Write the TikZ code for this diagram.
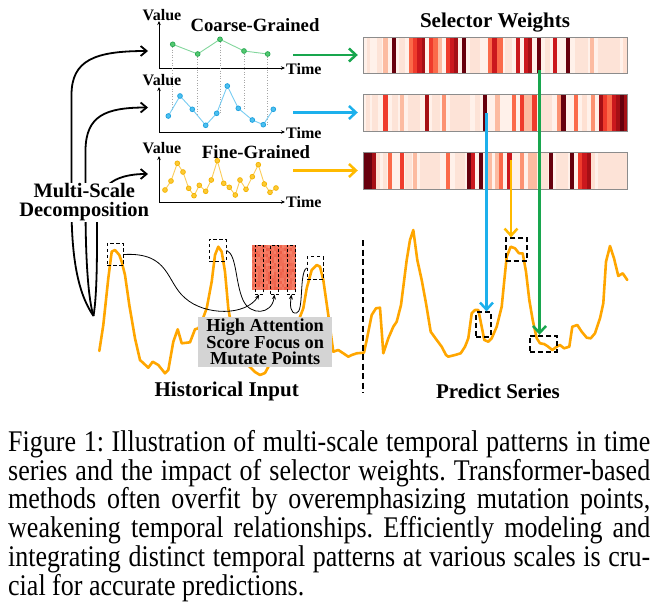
\documentclass[tikz,border=0pt]{standalone}
\usepackage{fontspec}
\setmainfont{Liberation Serif}
\newfontfamily\capfont{Liberation Serif}[FakeStretch=0.867]
\usetikzlibrary{arrows.meta}
\definecolor{sorange}{RGB}{255,166,0}
\definecolor{mgreen}{RGB}{24,166,78}
\definecolor{mblue}{RGB}{28,176,236}
\definecolor{myellow}{RGB}{255,186,0}
\definecolor{gpt}{RGB}{84,200,112}
\definecolor{gptd}{RGB}{40,168,82}
\definecolor{gln}{RGB}{130,214,156}
\definecolor{bpt}{RGB}{76,192,240}
\definecolor{bptd}{RGB}{30,160,222}
\definecolor{bln}{RGB}{120,204,242}
\definecolor{ypt}{RGB}{252,202,52}
\definecolor{yptd}{RGB}{244,178,0}
\definecolor{yln}{RGB}{250,204,90}
\definecolor{r0}{HTML}{FFF1EA}
\definecolor{rl}{HTML}{FDE3D7}
\definecolor{r1}{HTML}{FEE0D2}
\definecolor{r2}{HTML}{FCBBA1}
\definecolor{r3}{HTML}{FC9272}
\definecolor{r4}{HTML}{FB6A4A}
\definecolor{r5}{HTML}{EF3B2C}
\definecolor{r6}{HTML}{CB181D}
\definecolor{r7}{HTML}{A50F15}
\definecolor{r8}{HTML}{67000D}
\definecolor{blkA}{RGB}{236,84,62}
\definecolor{blkB}{RGB}{250,150,125}
\definecolor{boxgray}{RGB}{212,212,212}
\definecolor{barborder}{RGB}{140,140,140}
\begin{document}
\begin{tikzpicture}[x=1pt,y=-1pt,
  seriesln/.style={sorange,line width=2.6pt,line join=round,line cap=round},
  axisln/.style={black,line width=0.8pt,{Stealth[length=4pt,width=3.5pt]}-{Stealth[length=4pt,width=3.5pt]}},
  dotln/.style={gray!70,line width=0.6pt,dotted},
  ptg/.style={fill=gpt,draw=gptd,line width=0.7pt},
  ptb/.style={fill=bpt,draw=bptd,line width=0.7pt},
  pty/.style={fill=ypt,draw=yptd,line width=0.7pt},
  colarr/.style={line width=2.5pt,-{Straight Barb[length=7pt,width=13pt]}},
  blkarr/.style={black,line width=1.8pt,-{Straight Barb[length=6pt,width=10pt]}},
  thinarr/.style={black,line width=0.8pt,-{Stealth[length=5pt,width=4pt]}},
  hdash/.style={draw=black,line width=1pt,dash pattern=on 3.5pt off 2.5pt,inner sep=0pt},
  pdash/.style={draw=black,line width=1.8pt,dash pattern=on 5pt off 3pt,inner sep=0pt},
  cdash/.style={draw=black,line width=0.9pt,dash pattern=on 3pt off 2pt,inner sep=0pt,minimum height=49pt},
  barbox/.style={draw=barborder,line width=1pt,inner sep=0pt,minimum width=264.4pt},
  biglbl/.style={font=\fontsize{21}{18}\selectfont\bfseries,inner sep=0pt},
  midlbl/.style={font=\fontsize{18.7}{18}\selectfont\bfseries,inner sep=0pt},
  axlbl/.style={font=\fontsize{16}{16}\selectfont\bfseries,inner sep=0pt},
  caplbl/.style={font=\capfont\fontsize{30}{29}\selectfont\frenchspacing,inner sep=0pt,anchor=base west}
]
\useasboundingbox (0,0) rectangle (664,613);

% ---------------- orange series ----------------
\draw[seriesln] plot coordinates {(99.3,351) (103.3,325) (108.3,278.3) (111.7,251.7) (115,250) (119.3,255) (121.7,261.7) (125,275) (129.3,305) (135,338.3) (140,360) (148.3,367.7) (152.7,361.7) (158.3,365) (165,373.3) (168.3,370) (173.3,341.7) (177.7,329.3) (181.7,343.3) (190,342.3) (195,329.3) (198.3,328.3) (201.7,321.7) (206.7,308.3) (211.7,281.7) (215,255) (218.3,246.7) (221.7,251.7) (225,271.7) (228.3,308.3) (231.7,328.3) (236,345) (245,362) (255,372) (260,375) (265,373) (272,360) (280,345) (290,335) (298,322) (303.3,308.3) (306.7,288.3) (311.7,270) (316.7,265) (320,266.7) (323.3,280) (328.3,315) (333.3,351.7) (338.3,350) (343.3,353.3) (348.3,356.7) (351.7,355) (356.7,353.3) (364,352.7) (366.7,340) (371.7,315) (376,308.3) (380,307.7) (383.3,353.3) (388.3,338.3) (393.3,326.7) (396.7,321.7) (401,305) (406.7,260) (410,240) (413.3,230) (417.3,260) (421.7,280) (426,303.3) (430.7,331.7) (436.7,340) (441.7,346.7) (446,355) (448.3,356.7) (455,355) (460.7,353.3) (465,346.7) (468.3,338.3) (471.7,313.3) (475,310) (478.3,310) (481.7,326.7) (484.3,340) (488.3,341.7) (491.7,338.3) (496.7,326.7) (501.7,306.7) (504,283.3) (506.7,256.7) (510.7,246.7) (515,248.3) (519,253.3) (522.7,253.3) (526,271.7) (529.3,300) (532.7,320) (536.7,338.3) (540,343.3) (544,344) (547.3,346) (552.3,350) (556.7,346.7) (560,345) (564,348.3) (569.3,346.7) (572.3,326.7) (577.3,325) (581.7,331.7) (586.7,337.7) (590.7,338.3) (595,333.3) (600,318.3) (603.3,303.3) (606,261.7) (610,246) (614,258.3) (618.3,276) (622.7,273.3) (627.3,280)};

% gray annotation box
\node[fill=boxgray,minimum width=133.7pt,minimum height=50.6pt,inner sep=0pt,align=center,
  font=\fontsize{18.3}{16.7}\selectfont\bfseries] (hatt) at (265.2,342) {High Attention\\Score Focus on\\Mutate Points};

% dashed boxes on historical peaks
\node[hdash,minimum width=16pt,minimum height=22.4pt] (hb1) at (115.3,254.5) {};
\node[hdash,minimum width=16.7pt,minimum height=22pt] (hb2) at (217.7,250.3) {};
\node[hdash,minimum width=16.3pt,minimum height=22.5pt] (hb3) at (315.2,268) {};

% attention block
\pgfmathsetseed{11}
\foreach \i in {0,...,21}{
  \foreach \j in {0,...,14}{
    \pgfmathsetmacro\myshade{30+55*rnd}
    \fill[blkA!\myshade!blkB] (252.3+2*\i,245+3*\j) rectangle ++(2,3);
  }
}
\node[cdash,minimum width=8.3pt] (col1) at (259.2,269.5) {};
\node[cdash,minimum width=7.6pt] (col2) at (274.5,269.5) {};
\node[cdash,minimum width=8.4pt] (col3) at (291.5,269.5) {};

\draw[thinarr] (hb1.east) .. controls (170,252) and (166,282) .. (185,298) .. controls (205,316) and (246,316) .. (col1.south);
\draw[thinarr] (hb2.east) .. controls (237,255) and (235,282) .. (243,300) .. controls (250,316) and (272,315) .. (col2.south);
\draw[thinarr] (hb3.west) .. controls (299,273) and (304,312) .. (296.5,313) .. controls (290,314) and (290,305) .. (col3.south);

% divider
\coordinate (divtop) at (363.3,240);
\coordinate (divbot) at (363.3,393);
\draw[black,line width=1.8pt,dash pattern=on 6pt off 3.5pt] (divtop) -- (divbot);

\node[biglbl] (hist) at (226.7,391.5) {Historical Input};
\node[biglbl] (pred) at (498,391.5) {Predict Series};

% predicted-region boxes
\node[pdash,minimum width=21.6pt,minimum height=22.4pt] (pby) at (516.5,249.5) {};
\node[pdash,minimum width=14.7pt,minimum height=24.4pt] (pbb) at (483.3,324.5) {};
\node[pdash,minimum width=26.7pt,minimum height=16pt] (pbg) at (543.3,343.7) {};

% ---------------- multi-scale decomposition ----------------
\coordinate (mconv) at (93.5,316);
\coordinate (t1) at (148,51);
\coordinate (t2) at (148,107.5);
\coordinate (t3) at (148,174);
\draw[blkarr] (mconv) .. controls (77,292) and (71.5,255) .. (71.5,205) -- (71.5,95) .. controls (71.5,60) and (95,51) .. (t1);
\draw[blkarr] (mconv) .. controls (88.5,300) and (85.5,262) .. (85.5,205) -- (85.5,150) .. controls (86,116) and (105,107.5) .. (t2);
\draw[blkarr] (mconv) .. controls (97.5,292) and (97,245) .. (97,215) .. controls (97,188) and (112,174) .. (t3);
\node[fill=white,inner sep=1pt,align=center,font=\fontsize{20.5}{19}\selectfont\bfseries] (msd) at (84.2,202.5) {Multi-Scale\\Decomposition};

% ---------------- small charts ----------------
% chart 1 (coarse)
\draw[axisln] (159,21) -- (159,68) -- (285,68);
\node[axlbl] (v1) at (162,15) {Value};
\node[axlbl,anchor=west] (tm1) at (286,69) {Time};
\node[midlbl] (cg) at (255,25) {Coarse-Grained};
\foreach \x/\ya/\yb in {172.7/44.3/110, 197.7/54/115, 220/39.3/113, 244/51/110, 267.7/54/125}
  \draw[dotln] (\x,\ya) -- (\x,\yb);
\draw[gln,line width=0.9pt] plot coordinates {(172.7,44.3) (197.7,54) (220,39.3) (244,51) (267.7,54)};
\foreach \p in {(172.7,44.3),(197.7,54),(220,39.3),(244,51),(267.7,54)}
  \draw[ptg] \p circle (2.4);

% chart 2 (middle)
\draw[axisln] (159,87) -- (159,132) -- (285,132);
\node[axlbl] (v2) at (162,80) {Value};
\node[axlbl,anchor=west] (tm2) at (286,133) {Time};
\draw[bln,line width=0.9pt] plot coordinates {(168.3,116) (180,96) (192.3,109.3) (205.7,125.3) (216.7,113.3) (227.3,86) (238.3,108.3) (252.3,120) (263.3,124.7) (273.3,109.3)};
\foreach \p in {(168.3,116),(180,96),(192.3,109.3),(205.7,125.3),(216.7,113.3),(227.3,86),(238.3,108.3),(252.3,120),(263.3,124.7),(273.3,109.3)}
  \draw[ptb] \p circle (2.4);

% chart 3 (fine)
\draw[axisln] (159,156) -- (159,202) -- (285,202);
\node[axlbl] (v3) at (162,148) {Value};
\node[axlbl,anchor=west] (tm3) at (286,202.5) {Time};
\node[midlbl] (fg) at (256,152) {Fine-Grained};
\draw[yln,line width=0.9pt] plot coordinates {(165,190) (171,181) (177.3,163.3) (183,172) (188.7,188.3) (194,195.7) (199.3,185.3) (205.7,191.3) (211.3,180) (217.3,160.7) (223.7,183.3) (229.3,187.3) (235.3,195) (240,180) (246,189.3) (252.3,176.7) (258.3,164.7) (264.3,184) (270,192.3) (276,188)};
\foreach \p in {(165,190),(171,181),(177.3,163.3),(183,172),(188.7,188.3),(194,195.7),(199.3,185.3),(205.7,191.3),(211.3,180),(217.3,160.7),(223.7,183.3),(229.3,187.3),(235.3,195),(240,180),(246,189.3),(252.3,176.7),(258.3,164.7),(264.3,184),(270,192.3),(276,188)}
  \draw[pty] \p circle (2.4);

% ---------------- selector weights ----------------
\node[biglbl] (sw) at (495,23) {Selector Weights};

% bar 1
\fill[r0] (363.3,37) rectangle (627.7,73);
\foreach \a/\b/\c in {367/370/rl, 377/382/rl, 399/405/rl, 470/480/rl, 505/512/rl, 545/550/rl, 575/588/rl, 598/620/rl,
  383.3/388.3/r2, 391.7/395.7/r8, 409/413.3/r4, 413.3/417.3/r5, 417.3/421.7/r6, 421.7/425/r7,
  429.3/433.3/r5, 433.3/438.3/r4, 438.3/441.7/r2, 446/450/r5, 450/454.3/r6, 454.3/458.3/r7,
  461.7/466/r8, 487.7/491.7/r4, 491.7/497/r6, 497/503.3/r4, 515.7/520/r6, 524.3/528/r6, 528/532.3/r7,
  536.7/540.7/r8, 553.3/557.3/r6, 565.7/569.7/r8, 590/594.3/r2, 623/626.7/r1}
  \fill[\c] (\a,37) rectangle (\b,73);
\node[barbox,minimum height=36pt] (bar1) at (495.5,55) {};

% bar 2
\fill[r0] (363.3,94) rectangle (627.7,131);
\foreach \a/\b/\c in {366/370/rl, 372/378/rl, 392/398/rl, 408/420/rl, 432/440/rl, 450/470/rl, 475/480/rl, 540/552/rl,
  383.3/387.7/r5, 400/404.3/r2, 425/429.3/r7, 441.7/445.7/r3, 483.3/487.3/r8, 495/500/r2,
  511.7/515.7/r4, 520/524.3/r5, 524.3/532.3/r2, 532.3/536.7/r5, 556.7/561/r3, 561/565.7/r8,
  574/578.3/r4, 582.3/586.7/r1, 591/595/r3, 599/603.3/r7, 603.3/607.3/r5, 607.3/611.7/r4,
  611.7/615.7/r6, 615.7/620/r7, 620/624/r8, 624/627.7/r7}
  \fill[\c] (\a,94) rectangle (\b,131);
\node[barbox,minimum height=37pt] (bar2) at (495.5,112.5) {};

% bar 3
\fill[r0] (363.3,152) rectangle (627.7,189);
\foreach \a/\b/\c in {383/387/rl, 405/412/rl, 420/440/rl, 455/465/rl, 540/548/rl, 556/568/rl, 598/627/rl,
  363.3/371.7/r8, 371.7/375.7/r7, 375.7/380/r1, 387.7/392/r4, 400/404.3/r5, 413.3/417.3/r2,
  446/450/r4, 466.7/471/r8, 471/475/r6, 479/483.3/r8, 487.7/491.7/r2, 495/499/r2, 499/503.3/r4,
  507.3/511.7/r6, 520/524.3/r3, 528.3/532.3/r2, 532.3/536.7/r2, 549/553.3/r8, 570/574/r8,
  578.3/582.3/r5, 582.3/586.7/r6, 586.7/590.7/r7, 590.7/595/r1}
  \fill[\c] (\a,152) rectangle (\b,189);
\node[barbox,minimum height=37pt] (bar3) at (495.5,170.5) {};

% arrows from charts to bars
\coordinate (gs) at (293,55);
\coordinate (bs) at (293,112.5);
\coordinate (ys) at (293,170.5);
\draw[colarr,mgreen] (gs) -- ([xshift=-5pt]bar1.west);
\draw[colarr,mblue] (bs) -- ([xshift=-5pt]bar2.west);
\draw[colarr,myellow] (ys) -- ([xshift=-5pt]bar3.west);

% vertical arrows from bars to prediction
\coordinate (gv) at (539.5,70);
\coordinate (bv) at (486.5,113);
\coordinate (yv) at (511,160);
\draw[colarr,mgreen] (gv) -- (gv |- pbg.north);
\draw[colarr,mblue] (bv) -- (bv |- pbb.north);
\draw[colarr,myellow] (yv) -- (yv |- pby.north);

% ---------------- caption ----------------
\node[caplbl] (cap1) at (8,451.5) {\makebox[642pt][s]{Figure 1: Illustration of multi-scale temporal patterns in time}};
\node[caplbl] (cap2) at (8,480.2) {\makebox[642pt][s]{series and the impact of selector weights. Transformer-based}};
\node[caplbl] (cap3) at (8,508.9) {\makebox[642pt][s]{methods often overfit by overemphasizing mutation points,}};
\node[caplbl] (cap4) at (8,537.6) {\makebox[642pt][s]{weakening temporal relationships. Efficiently modeling and}};
\node[caplbl] (cap5) at (8,566.3) {\makebox[642pt][s]{integrating distinct temporal patterns at various scales is cru-}};
\node[caplbl] (cap6) at (8,595) {cial for accurate predictions.};
\end{tikzpicture}
\end{document}
